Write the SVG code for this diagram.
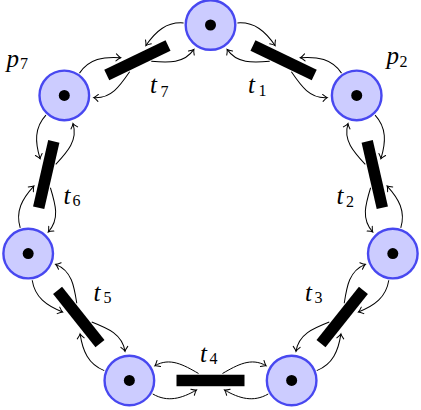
<svg xmlns="http://www.w3.org/2000/svg" width="421" height="410" viewBox="0 0 421 410">
<style>
.place{fill:#ccccff;stroke:#4848f0;stroke-width:2.4}
.tok{fill:#000}
.bar{fill:#000}
.arc{fill:none;stroke:#000;stroke-width:1;marker-end:url(#ah)}
</style>
<defs>
<marker id="ah" markerUnits="userSpaceOnUse" viewBox="-6 -5 8 10" refX="0" refY="0" markerWidth="8" markerHeight="10" orient="auto">
<path d="M-4.5,-3.5 Q-1.5,-0.6 0,0 Q-1.5,0.6 -4.5,3.5" fill="none" stroke="#000" stroke-width="1" stroke-linecap="round"/>
</marker>
</defs>
<g id="connectors">
<g transform="translate(283.6,60.2) rotate(25.714)">
<path class="arc" d="M57.76,-13.5 C42.86,-22.1 28.9,-18.1 14,-9.5"/>
<path class="arc" d="M12,7 C27,15.65 40.6,23.4 55.6,14.75"/>
<path class="arc" d="M-57.76,-13.5 C-42.86,-22.1 -28.9,-18.1 -14,-9.5"/>
<path class="arc" d="M-12,7 C-27,15.65 -40.6,23.4 -55.6,14.75"/>
</g>
<g transform="translate(374.76,174.51) rotate(77.143)">
<path class="arc" d="M57.76,-13.5 C42.86,-22.1 28.9,-18.1 14,-9.5"/>
<path class="arc" d="M12,7 C27,15.65 40.6,23.4 55.6,14.75"/>
<path class="arc" d="M-57.76,-13.5 C-42.86,-22.1 -28.9,-18.1 -14,-9.5"/>
<path class="arc" d="M-12,7 C-27,15.65 -40.6,23.4 -55.6,14.75"/>
</g>
<g transform="translate(342.22,317.04) rotate(128.571)">
<path class="arc" d="M57.76,-13.5 C42.86,-22.1 28.9,-18.1 14,-9.5"/>
<path class="arc" d="M12,7 C27,15.65 40.6,23.4 55.6,14.75"/>
<path class="arc" d="M-57.76,-13.5 C-42.86,-22.1 -28.9,-18.1 -14,-9.5"/>
<path class="arc" d="M-12,7 C-27,15.65 -40.6,23.4 -55.6,14.75"/>
</g>
<g transform="translate(210.5,380.48) rotate(180)">
<path class="arc" d="M57.76,-13.5 C42.86,-22.1 28.9,-18.1 14,-9.5"/>
<path class="arc" d="M12,7 C27,15.65 40.6,23.4 55.6,14.75"/>
<path class="arc" d="M-57.76,-13.5 C-42.86,-22.1 -28.9,-18.1 -14,-9.5"/>
<path class="arc" d="M-12,7 C-27,15.65 -40.6,23.4 -55.6,14.75"/>
</g>
<g transform="translate(78.78,317.04) rotate(231.429)">
<path class="arc" d="M57.76,-13.5 C42.86,-22.1 28.9,-18.1 14,-9.5"/>
<path class="arc" d="M12,7 C27,15.65 40.6,23.4 55.6,14.75"/>
<path class="arc" d="M-57.76,-13.5 C-42.86,-22.1 -28.9,-18.1 -14,-9.5"/>
<path class="arc" d="M-12,7 C-27,15.65 -40.6,23.4 -55.6,14.75"/>
</g>
<g transform="translate(46.24,174.51) rotate(282.857)">
<path class="arc" d="M57.76,-13.5 C42.86,-22.1 28.9,-18.1 14,-9.5"/>
<path class="arc" d="M12,7 C27,15.65 40.6,23.4 55.6,14.75"/>
<path class="arc" d="M-57.76,-13.5 C-42.86,-22.1 -28.9,-18.1 -14,-9.5"/>
<path class="arc" d="M-12,7 C-27,15.65 -40.6,23.4 -55.6,14.75"/>
</g>
<g transform="translate(137.4,60.2) rotate(334.286)">
<path class="arc" d="M57.76,-13.5 C42.86,-22.1 28.9,-18.1 14,-9.5"/>
<path class="arc" d="M12,7 C27,15.65 40.6,23.4 55.6,14.75"/>
<path class="arc" d="M-57.76,-13.5 C-42.86,-22.1 -28.9,-18.1 -14,-9.5"/>
<path class="arc" d="M-12,7 C-27,15.65 -40.6,23.4 -55.6,14.75"/>
</g>
</g>
<g font-family="Liberation Serif, DejaVu Serif, serif" font-size="25" fill="#000">
<g id="p1"><circle class="place" cx="210.5" cy="25" r="24.8"/><circle class="tok" cx="210.5" cy="25" r="5.5"/></g>
<g id="p2"><circle class="place" cx="356.7" cy="95.41" r="24.8"/><circle class="tok" cx="356.7" cy="95.41" r="5.5"/>
<text x="386.5" y="63.5" font-style="italic">p</text><text x="399.5" y="67" font-size="16">2</text></g>
<g id="p3"><circle class="place" cx="392.81" cy="253.61" r="24.8"/><circle class="tok" cx="392.81" cy="253.61" r="5.5"/></g>
<g id="p4"><circle class="place" cx="291.64" cy="380.48" r="24.8"/><circle class="tok" cx="291.64" cy="380.48" r="5.5"/></g>
<g id="p5"><circle class="place" cx="129.36" cy="380.48" r="24.8"/><circle class="tok" cx="129.36" cy="380.48" r="5.5"/></g>
<g id="p6"><circle class="place" cx="28.19" cy="253.61" r="24.8"/><circle class="tok" cx="28.19" cy="253.61" r="5.5"/></g>
<g id="p7"><circle class="place" cx="64.3" cy="95.41" r="24.8"/><circle class="tok" cx="64.3" cy="95.41" r="5.5"/>
<text x="6.5" y="66.5" font-style="italic">p</text><text x="20" y="69" font-size="16">7</text></g>
<g id="t1"><rect class="bar" x="-34" y="-5.75" width="68" height="11.5" transform="translate(283.6,60.2) rotate(25.714)"/>
<text x="248" y="92.7" font-style="italic">t</text><text x="258.5" y="95.5" font-size="16">1</text></g>
<g id="t2"><rect class="bar" x="-34" y="-5.75" width="68" height="11.5" transform="translate(374.76,174.51) rotate(77.143)"/>
<text x="336.5" y="204" font-style="italic">t</text><text x="346" y="206.5" font-size="16">2</text></g>
<g id="t3"><rect class="bar" x="-34" y="-5.75" width="68" height="11.5" transform="translate(342.22,317.04) rotate(128.571)"/>
<text x="305" y="300.7" font-style="italic">t</text><text x="314.5" y="303.3" font-size="16">3</text></g>
<g id="t4"><rect class="bar" x="-34" y="-5.75" width="68" height="11.5" transform="translate(210.5,380.48) rotate(180)"/>
<text x="200" y="361.7" font-style="italic">t</text><text x="209.5" y="364" font-size="16">4</text></g>
<g id="t5"><rect class="bar" x="-34" y="-5.75" width="68" height="11.5" transform="translate(78.78,317.04) rotate(231.429)"/>
<text x="93.5" y="300.7" font-style="italic">t</text><text x="103.5" y="303" font-size="16">5</text></g>
<g id="t6"><rect class="bar" x="-34" y="-5.75" width="68" height="11.5" transform="translate(46.24,174.51) rotate(282.857)"/>
<text x="63.5" y="203.5" font-style="italic">t</text><text x="72.5" y="206" font-size="16">6</text></g>
<g id="t7"><rect class="bar" x="-34" y="-5.75" width="68" height="11.5" transform="translate(137.4,60.2) rotate(334.286)"/>
<text x="150" y="93.3" font-style="italic">t</text><text x="160.5" y="96.5" font-size="16">7</text></g>
</g>
</svg>
